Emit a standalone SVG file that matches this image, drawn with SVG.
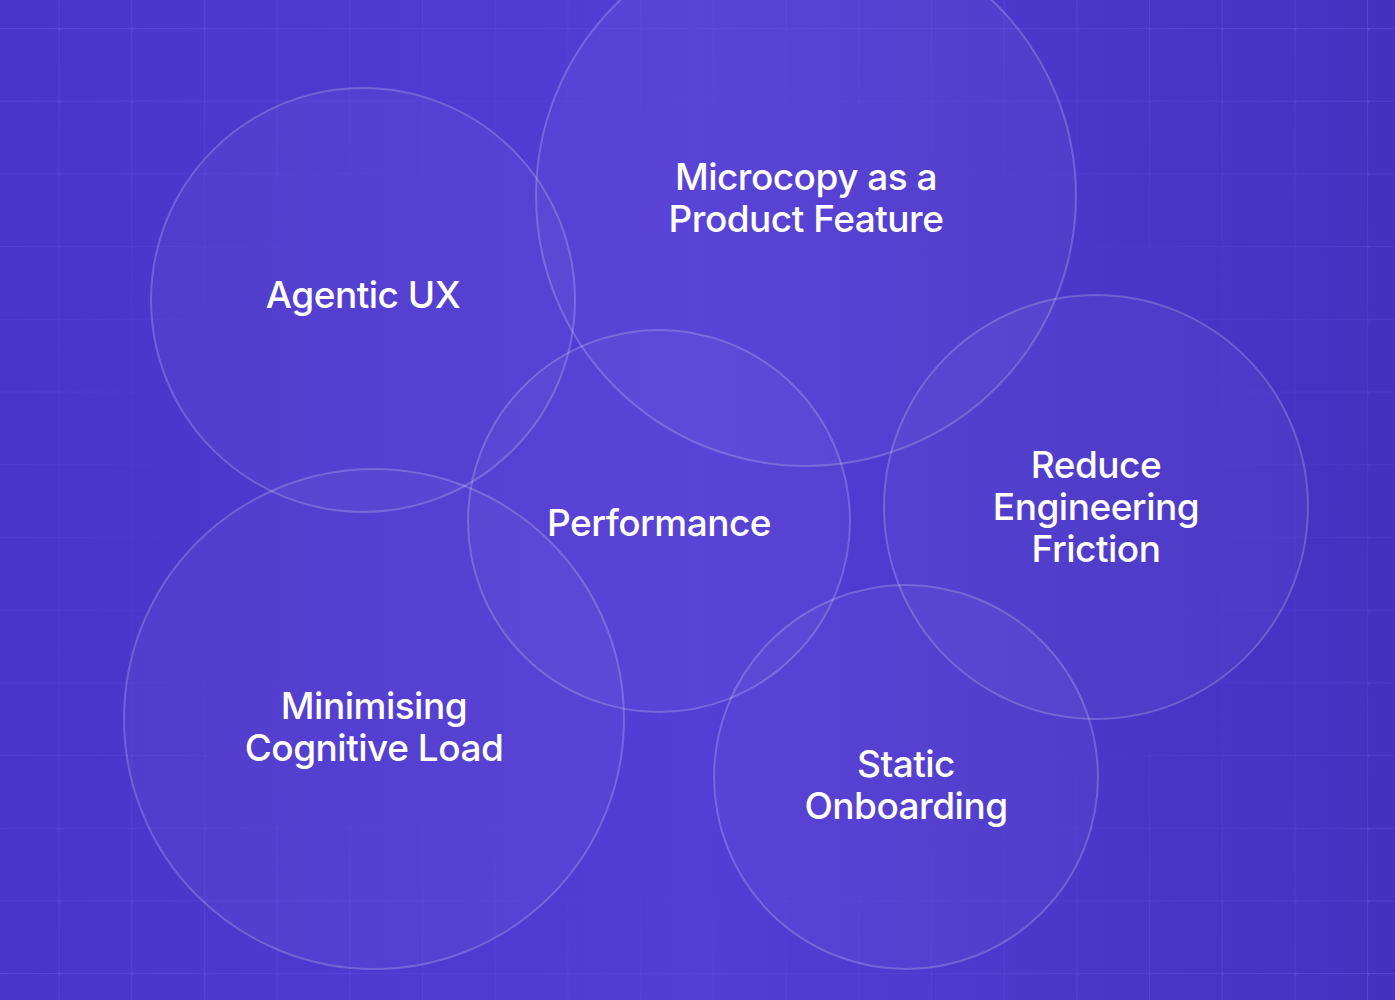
<svg xmlns="http://www.w3.org/2000/svg" width="1395" height="1000" viewBox="0 0 1395 1000">
<defs>
<linearGradient id="bg" x1="0" y1="0" x2="1" y2="0">
<stop offset="0" stop-color="#4a34c9"/><stop offset="0.5" stop-color="#533ed6"/><stop offset="1" stop-color="#4530c0"/>
</linearGradient>
<pattern id="grid" x="58.5" y="28" width="72.7" height="72.7" patternUnits="userSpaceOnUse">
<path d="M0 0H72.7M0 0V72.7" fill="none" stroke="#6a58e8" stroke-width="1.5"/>
<circle cx="0" cy="0" r="2.5" fill="#6a58e8"/>
</pattern>
<radialGradient id="fade" cx="0.5" cy="0.5" r="0.75">
<stop offset="0.45" stop-color="#000"/><stop offset="1" stop-color="#fff"/>
</radialGradient>
<mask id="m"><rect width="1395" height="1000" fill="url(#fade)"/></mask>
<style>
.c{fill:#ffffff;fill-opacity:0.035;stroke:#ffffff;stroke-opacity:0.2;stroke-width:2}
.t{font-family:Inter,"Noto Sans",sans-serif;font-size:37px;font-weight:500;fill:#fff;text-anchor:middle;letter-spacing:-0.5px}
</style>
</defs>
<rect width="1395" height="1000" fill="url(#bg)"/>
<rect width="1395" height="1000" fill="url(#grid)" mask="url(#m)" opacity="0.8"/>
<g id="agentic"><circle class="c" cx="363" cy="300" r="212"/><text class="t" x="363" y="308">Agentic UX</text></g>
<g id="microcopy"><circle class="c" cx="806" cy="196" r="270"/><text class="t" x="806" y="190">Microcopy as a</text><text class="t" x="806" y="232">Product Feature</text></g>
<g id="performance"><circle class="c" cx="659" cy="521" r="191"/><text class="t" x="659" y="536">Performance</text></g>
<g id="reduce"><circle class="c" cx="1096" cy="507" r="212"/><text class="t" x="1096" y="478">Reduce</text><text class="t" x="1096" y="520">Engineering</text><text class="t" x="1096" y="562">Friction</text></g>
<g id="minimising"><circle class="c" cx="374" cy="719" r="250"/><text class="t" x="374" y="719">Minimising</text><text class="t" x="374" y="761">Cognitive Load</text></g>
<g id="static"><circle class="c" cx="906" cy="777" r="192"/><text class="t" x="906" y="777">Static</text><text class="t" x="906" y="819">Onboarding</text></g>
<g id="connectors"></g>
</svg>
